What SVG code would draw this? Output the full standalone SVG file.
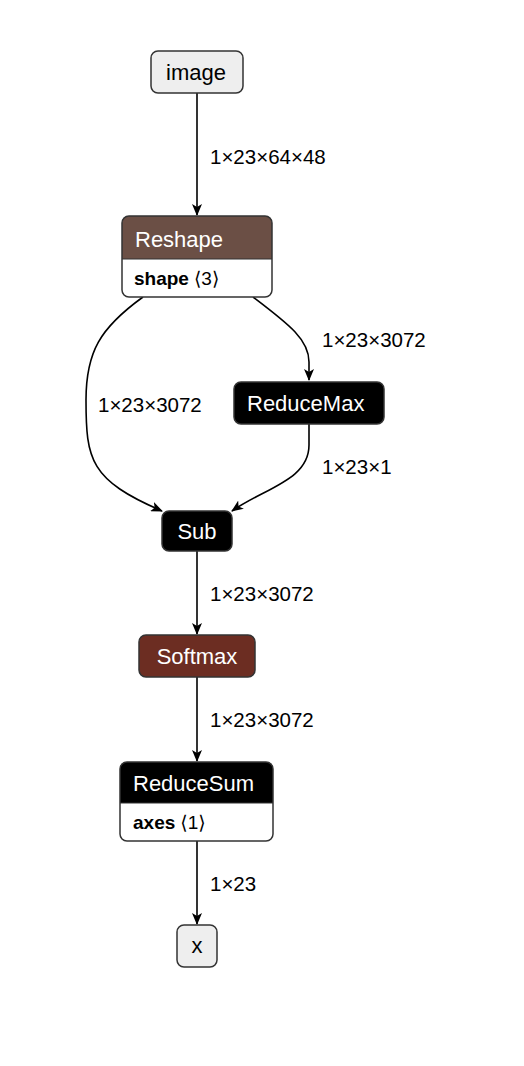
<svg xmlns="http://www.w3.org/2000/svg" width="524" height="1066" viewBox="0 0 524 1066">
<style>
text{font-family:"Liberation Sans","DejaVu Sans",sans-serif;}
.nt{font-size:22px;fill:#fff;}
.it{font-size:22px;fill:#000;}
.el{font-size:20.5px;fill:#000;}
.at{font-size:19px;fill:#000;}
.ab{font-weight:bold;}
.bd{stroke:#333;stroke-width:1.5;}
.edge{fill:none;stroke:#000;stroke-width:1.6;marker-end:url(#arr);}
</style>
<defs>
<marker id="arr" viewBox="0 0 12 10" refX="11" refY="5" markerWidth="12" markerHeight="10" markerUnits="userSpaceOnUse" orient="auto">
<path d="M0,0 L12,5 L0,10 L3,5 z" fill="#000"/>
</marker>
</defs>
<rect width="524" height="1066" fill="#fff"/>
<g id="edges">
<path class="edge" d="M197,93 L197,215"/>
<path class="edge" d="M253,297 C290,325 309,340 309,362 L309,380"/>
<path class="edge" d="M143,297 C100,328 86,352 86,400 C86,460 90,480 162,511"/>
<path class="edge" d="M309,424 L309,445 C309,480 265,488 232,511"/>
<path class="edge" d="M197,551 L197,634"/>
<path class="edge" d="M197,677 L197,761"/>
<path class="edge" d="M197,841 L197,924"/>
<text class="el" x="210" y="164">1×23×64×48</text>
<text class="el" x="322" y="347">1×23×3072</text>
<text class="el" x="98" y="412">1×23×3072</text>
<text class="el" x="322" y="474">1×23×1</text>
<text class="el" x="210" y="601">1×23×3072</text>
<text class="el" x="210" y="727">1×23×3072</text>
<text class="el" x="210" y="891">1×23</text>
</g>
<g id="node-image">
<rect class="bd" x="151" y="51" width="92" height="42" rx="7" fill="#eee"/>
<text class="it" x="196" y="80" text-anchor="middle">image</text>
</g>
<g id="node-reshape">
<path d="M122,259 L122,223 Q122,216 129,216 L265,216 Q272,216 272,223 L272,259 Z" fill="#6b4f45"/>
<path d="M122,259 L272,259 L272,290 Q272,297 265,297 L129,297 Q122,297 122,290 Z" fill="#fff"/>
<rect class="bd" x="122" y="216" width="150" height="81" rx="7" fill="none"/>
<line x1="122" y1="259" x2="272" y2="259" stroke="#333" stroke-width="1"/>
<text class="nt" x="135" y="247">Reshape</text>
<text class="at" x="134" y="285"><tspan class="ab">shape</tspan><tspan dx="5">⟨3⟩</tspan></text>
</g>
<g id="node-reducemax">
<rect class="bd" x="234" y="382" width="150" height="42" rx="7" fill="#000"/>
<text class="nt" x="247" y="411">ReduceMax</text>
</g>
<g id="node-sub">
<rect class="bd" x="162" y="511" width="70" height="40" rx="7" fill="#000"/>
<text class="nt" x="197" y="539" text-anchor="middle">Sub</text>
</g>
<g id="node-softmax">
<rect class="bd" x="139" y="635" width="116" height="42" rx="7" fill="#6c2d22"/>
<text class="nt" x="197" y="664" text-anchor="middle">Softmax</text>
</g>
<g id="node-reducesum">
<path d="M120,803 L120,769 Q120,762 127,762 L266,762 Q273,762 273,769 L273,803 Z" fill="#000"/>
<path d="M120,803 L273,803 L273,834 Q273,841 266,841 L127,841 Q120,841 120,834 Z" fill="#fff"/>
<rect class="bd" x="120" y="762" width="153" height="79" rx="7" fill="none"/>
<line x1="120" y1="803" x2="273" y2="803" stroke="#333" stroke-width="1"/>
<text class="nt" x="133" y="791">ReduceSum</text>
<text class="at" x="133" y="829"><tspan class="ab">axes</tspan><tspan dx="5">⟨1⟩</tspan></text>
</g>
<g id="node-x">
<rect class="bd" x="177" y="925" width="40" height="42" rx="7" fill="#eee"/>
<text class="it" x="197" y="953" text-anchor="middle">x</text>
</g>
</svg>
